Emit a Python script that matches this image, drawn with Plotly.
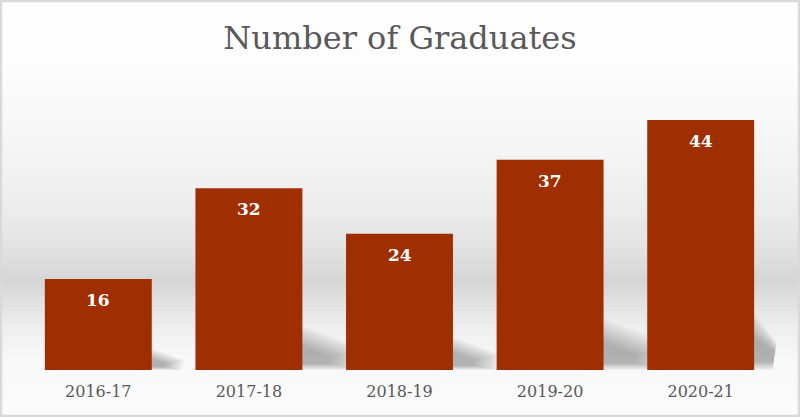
import numpy as np
import plotly.graph_objects as go

# Graduates per academic year
years = ["2016-17", "2017-18", "2018-19", "2019-20", "2020-21"]
graduates = [16, 32, 24, 37, 44]

font_family = "DejaVu Serif"
W, H = 800, 417
M = dict(l=23, r=24, t=86, b=47)
pw, ph = W - M["l"] - M["r"], H - M["t"] - M["b"]
bar_w = 0.71

fig = go.Figure()

# grey backdrop: pixel row -> grey level, darkest just above the bar base
stops_px = [0, 60, 130, 200, 250, 282, 300, 330, 360, 417]
stops_lv = [255, 253, 247, 238, 226, 213, 224, 239, 248, 251]
shapes = []
edges = np.linspace(0, H, 84)
for top, bot in zip(edges[:-1], edges[1:]):
    lv = int(round(np.interp((top + bot) / 2, stops_px, stops_lv)))
    shapes.append(dict(type="rect", xref="paper", yref="paper",
                       x0=-M["l"] / pw, x1=1 + M["r"] / pw,
                       y0=(H - M["b"] - bot - 0.5) / ph, y1=(H - M["b"] - top + 0.5) / ph,
                       fillcolor=f"rgb({lv},{lv},{lv})", line_width=0, layer="below"))

# soft drop shadows to the right of each bar, built from stacked faint layers
for i, v in enumerate(graduates):
    right = i + bar_w / 2
    sh = v * 0.25
    ln = v * 0.0135
    for k in range(10):
        t = k / 10
        x1 = min(right + ln * (1 - 0.6 * t), len(years) - 0.5)
        yt_l = sh * (1 - 0.5 * t)
        yt_r = sh * 0.45 * (1 - 0.4 * t)
        yb = sh * 0.15 * t
        shapes.append(dict(type="path", xref="x", yref="y", layer="below",
                           path=f"M {right - 0.03:.3f},{yb:.2f} L {right - 0.03:.3f},{yt_l:.2f} "
                                f"L {x1:.3f},{yt_r:.2f} L {x1 - 0.02:.3f},{yb:.2f} Z",
                           fillcolor="rgba(0,0,0,0.03)", line_width=0))

fig.add_trace(go.Bar(
    x=years, y=graduates,
    marker=dict(color="#9f2f00", line=dict(width=0)),
    width=bar_w,
    hoverinfo="x+y",
))

annotations = []
for yr, v in zip(years, graduates):
    annotations.append(dict(x=yr, y=v, text=f"<b>{v}</b>", showarrow=False,
                            yshift=-21, font=dict(family=font_family, size=17, color="white")))

# thin grey frame round the whole chart
shapes.append(dict(type="rect", xref="paper", yref="paper",
                   x0=(-M["l"] + 1) / pw, x1=1 + (M["r"] - 1) / pw,
                   y0=(-M["b"] + 1) / ph, y1=1 + (M["t"] - 1) / ph,
                   line=dict(color="#d9d9d9", width=2.5),
                   fillcolor="rgba(0,0,0,0)", layer="above"))

fig.update_layout(
    width=W, height=H,
    margin=M,
    paper_bgcolor="white",
    plot_bgcolor="rgba(0,0,0,0)",
    title=dict(text="Number of Graduates", x=0.5, xanchor="center", y=0.91, yanchor="middle",
               font=dict(family=font_family, size=32, color="#595959")),
    xaxis=dict(showgrid=False, showline=False, zeroline=False, ticks="",
               range=[-0.5, len(years) - 0.5], ticklabelstandoff=10,
               tickfont=dict(family=font_family, size=16, color="#595959")),
    yaxis=dict(range=[0, 50], visible=False),
    showlegend=False,
    shapes=shapes,
    annotations=annotations,
)

fig.write_html("out.html", config={"displayModeBar": False},
               post_script="document.body.style.margin='0';")
